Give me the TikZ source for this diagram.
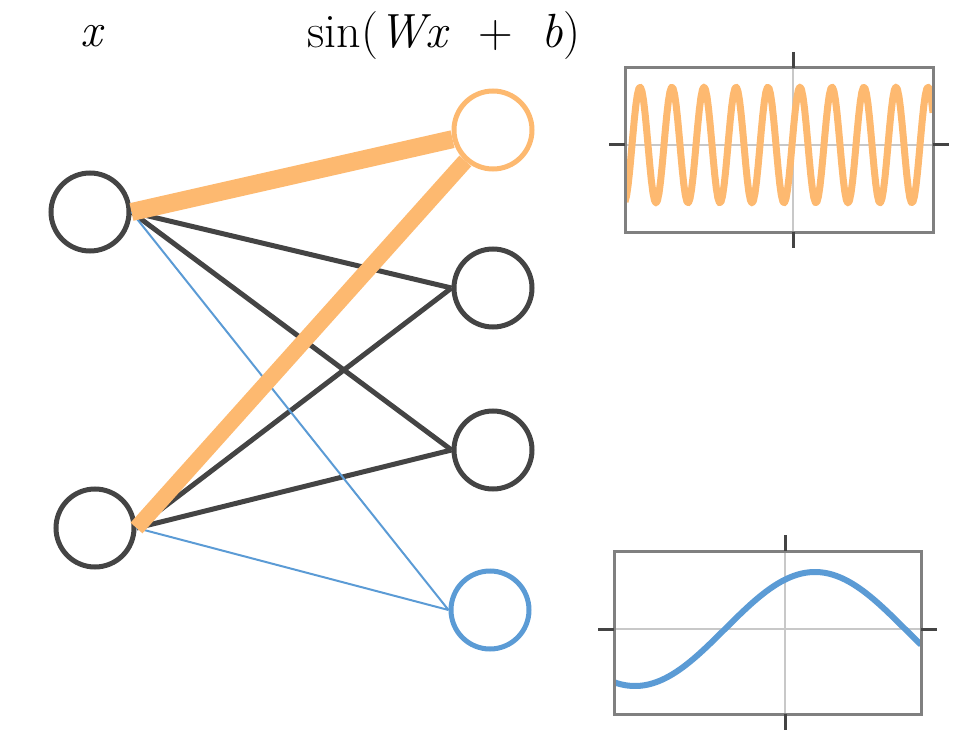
\documentclass[tikz,border=0pt]{standalone}
\usepackage{fontspec}
\definecolor{dk}{HTML}{444444}
\definecolor{org}{HTML}{FDB970}
\definecolor{blu}{HTML}{5B9BD5}
\definecolor{bx}{HTML}{808080}
\definecolor{gr}{HTML}{C8C8C8}
\begin{document}
\begin{tikzpicture}[x=1pt,y=-1pt,
  neu/.style={circle,draw=#1,line width=5pt,minimum size=78pt,inner sep=0pt,fill=white},
  dkedge/.style={dk,line width=5pt},
  lbl/.style={font=\fontsize{48}{52}\selectfont}]
\useasboundingbox (0,0) rectangle (970,733);
\node[neu=dk] (i1) at (90,212) {};
\node[neu=dk] (i2) at (95,528) {};
\node[neu=org] (o1) at (493,130) {};
\node[neu=dk] (o2) at (493,288) {};
\node[neu=dk] (o3) at (493,450) {};
\node[neu=blu] (o4) at (490,610) {};
\draw[dkedge] (i1.east) -- (o2.west);
\draw[dkedge] (i1.east) -- (o3.west);
\draw[dkedge] (i2.east) -- (o2.west);
\draw[dkedge] (i2.east) -- (o3.west);
\draw[blu,line width=2pt] (i1.east) -- (o4.west);
\draw[blu,line width=2pt] (i2.east) -- (o4.west);
\draw[org,line width=18pt] (i1.east) -- (o1);
\draw[org,line width=16pt] (i2.east) -- (o1);
\node[lbl] (tx) at (93,36) {\textit{x}};
\node[lbl] (ts) at (444,36) {sin(\textit{Wx}\ \ +\ \ \textit{b})};
% top plot
\draw[gr,line width=1.2pt] (793,68) -- (793,232) (625,145) -- (933,145);
\begin{scope}
\clip (625,68) rectangle (933,232);
\draw[org,line width=7pt,line join=round] plot[domain=625:933,samples=200,variable=\t] (\t,{145-58*sin((\t-632)/32*360)});
\end{scope}
\draw[bx,line width=3pt] (625,68) rectangle (933,232);
\draw[dk,line width=3pt] (793,52) -- (793,68) (793,232) -- (793,248) (609,145) -- (625,145) (933,145) -- (949,145);
% bottom plot
\draw[gr,line width=1.2pt] (785,551) -- (785,714) (614,629) -- (921,629);
\begin{scope}
\clip (614,551) rectangle (921,714);
\draw[blu,line width=6pt] plot[domain=614:921,samples=200,variable=\t] (\t,{629-57*sin((\t-725)/360*360)});
\end{scope}
\draw[bx,line width=3pt] (614,551) rectangle (921,714);
\draw[dk,line width=3pt] (785,535) -- (785,551) (785,714) -- (785,730) (598,629) -- (614,629) (921,629) -- (937,629);
\end{tikzpicture}
\end{document}
